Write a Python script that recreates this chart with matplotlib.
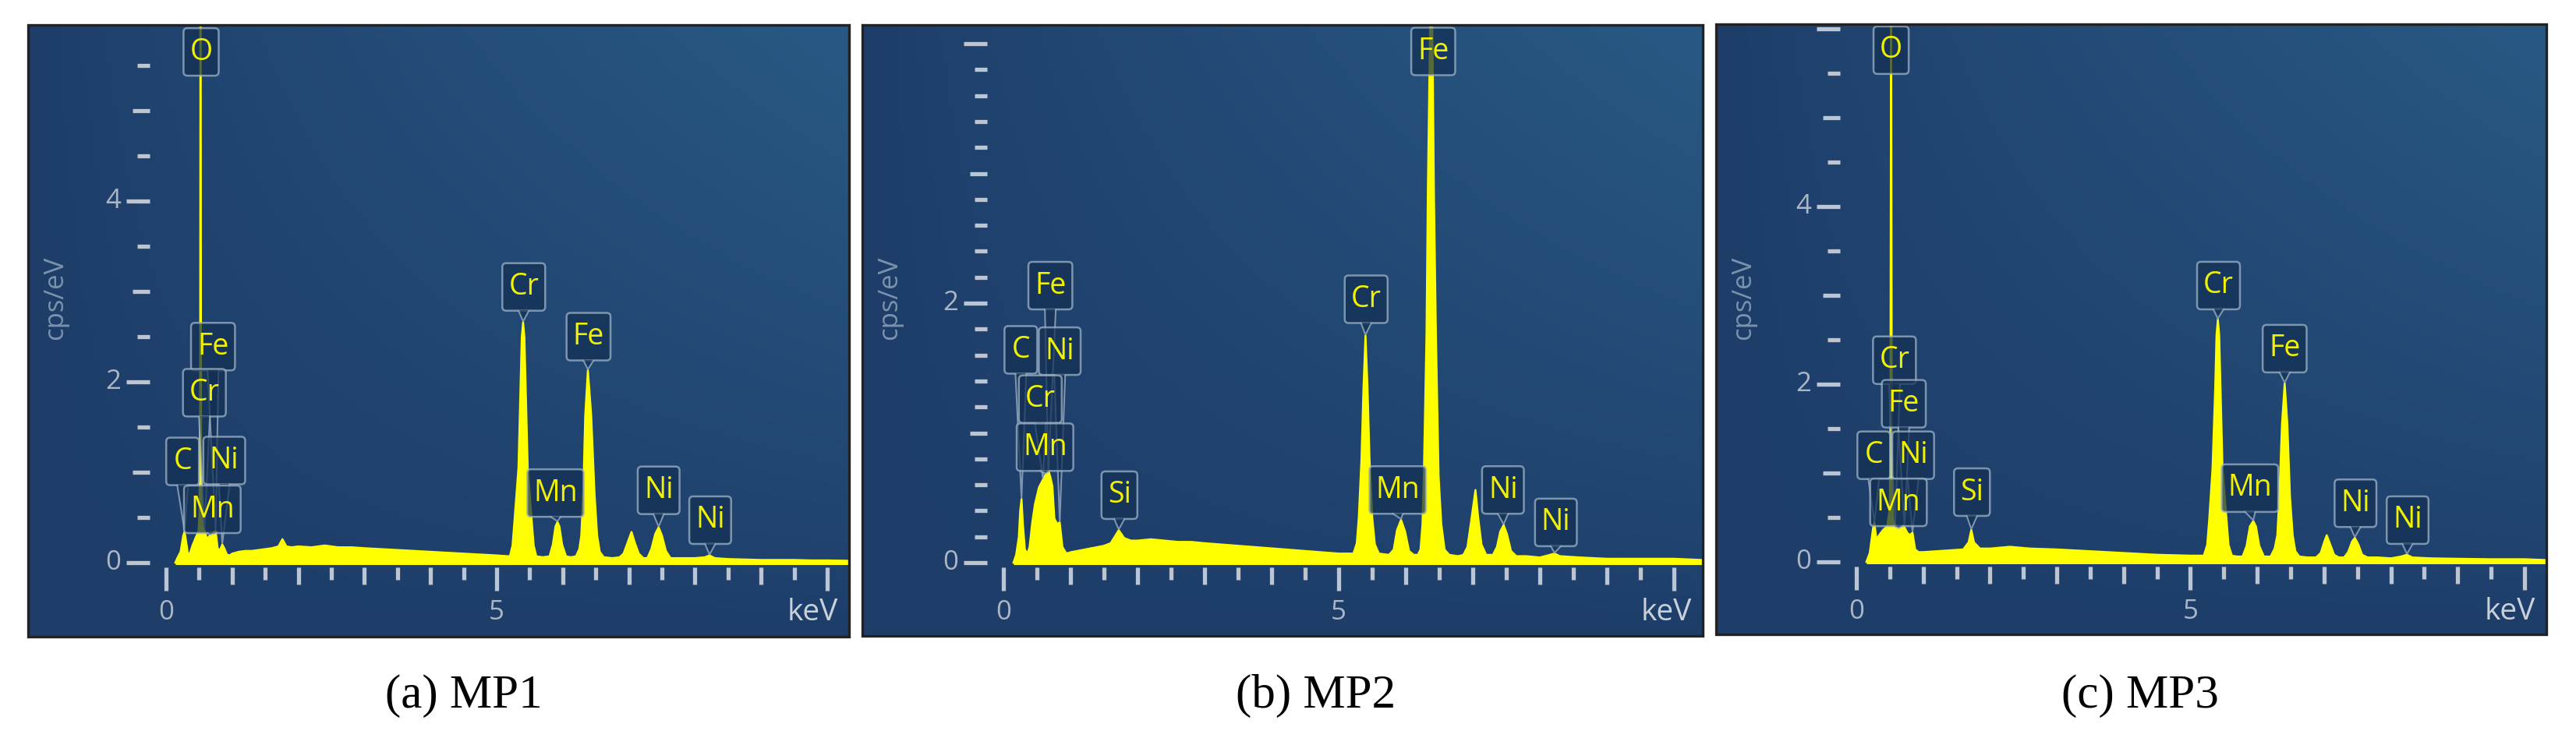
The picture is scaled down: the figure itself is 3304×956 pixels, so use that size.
import numpy as np
import matplotlib
matplotlib.use("Agg")
import matplotlib.pyplot as plt
from matplotlib.patches import FancyBboxPatch, Polygon, Rectangle
from matplotlib.transforms import IdentityTransform

W, H, DPI = 3305, 956, 100

# ----------------------------------------------------------------- data
captions = ["(a) MP1", "(b) MP2", "(c) MP3"]

# (a) MP1 spectrum, keV vs cps/eV
a_energy = [0.14, 0.17, 0.22, 0.26, 0.28, 0.30, 0.33, 0.36, 0.40, 0.45, 0.49, 0.505, 0.515,
            0.52, 0.53, 0.535, 0.55, 0.58, 0.62, 0.66, 0.70, 0.75, 0.78, 0.81, 0.85, 0.88,
            0.92, 0.96, 1.00, 1.10, 1.20, 1.30, 1.40, 1.50, 1.60, 1.70, 1.76, 1.82, 1.90,
            2.00, 2.20, 2.40, 2.60, 2.80, 3.00, 3.25, 3.50, 3.75, 4.00, 4.25, 4.50, 4.75,
            5.00, 5.20, 5.24, 5.27, 5.33, 5.36, 5.38, 5.40, 5.42, 5.44, 5.47, 5.53, 5.56,
            5.60, 5.70, 5.80, 5.85, 5.89, 5.92, 5.95, 5.99, 6.05, 6.12, 6.20, 6.25, 6.28,
            6.31, 6.34, 6.38, 6.43, 6.48, 6.52, 6.56, 6.62, 6.75, 6.86, 6.92, 6.98, 7.04,
            7.09, 7.15, 7.22, 7.28, 7.34, 7.40, 7.45, 7.50, 7.56, 7.63, 7.80, 8.00, 8.15,
            8.22, 8.30, 8.50, 8.75, 9.00, 9.25, 9.50, 9.75, 10.00, 10.40]
a_counts = [0.00, 0.05, 0.12, 0.30, 0.34, 0.25, 0.10, 0.10, 0.19, 0.28, 0.34, 0.55, 1.60,
            5.95, 1.50, 1.00, 0.42, 0.36, 0.26, 0.30, 0.33, 0.35, 0.16, 0.13, 0.20, 0.16,
            0.09, 0.08, 0.10, 0.12, 0.13, 0.13, 0.14, 0.15, 0.16, 0.18, 0.26, 0.18, 0.17,
            0.18, 0.17, 0.19, 0.17, 0.17, 0.16, 0.15, 0.14, 0.13, 0.12, 0.11, 0.10, 0.09,
            0.08, 0.07, 0.19, 0.47, 1.05, 1.91, 2.49, 2.66, 2.49, 1.91, 1.05, 0.47, 0.19,
            0.07, 0.06, 0.07, 0.20, 0.40, 0.45, 0.40, 0.20, 0.07, 0.06, 0.07, 0.15, 0.30,
            0.77, 1.63, 2.13, 1.63, 0.77, 0.30, 0.12, 0.06, 0.05, 0.06, 0.10, 0.22, 0.34,
            0.22, 0.10, 0.05, 0.05, 0.15, 0.32, 0.39, 0.30, 0.13, 0.05, 0.05, 0.05, 0.06,
            0.08, 0.05, 0.04, 0.035, 0.03, 0.03, 0.03, 0.025, 0.025, 0.02]
a_label_names = ["O", "Fe", "Cr", "C", "Ni", "Mn", "Cr", "Fe", "Mn", "Ni", "Ni"]
a_label_x = [0.53, 0.71, 0.58, 0.25, 0.88, 0.70, 5.41, 6.39, 5.89, 7.45, 8.23]
a_label_y = [5.65, 2.39, 1.88, 1.12, 1.13, 0.59, 3.05, 2.50, 0.77, 0.80, 0.47]
a_line_keV = [0.52, 0.75, 0.58, 0.28, 0.85, 0.66, 5.40, 6.38, 5.92, 7.45, 8.22]

# (b) MP2 spectrum
b_energy = [0.15, 0.19, 0.23, 0.25, 0.27, 0.29, 0.32, 0.36, 0.39, 0.43, 0.47, 0.53, 0.59,
            0.63, 0.67, 0.70, 0.73, 0.76, 0.80, 0.84, 0.88, 0.94, 1.00, 1.10, 1.20, 1.30,
            1.40, 1.50, 1.60, 1.66, 1.72, 1.80, 1.90, 2.00, 2.20, 2.40, 2.60, 2.80, 3.00,
            3.25, 3.50, 3.75, 4.00, 4.25, 4.50, 4.75, 5.00, 5.22, 5.27, 5.30, 5.34, 5.37,
            5.40, 5.43, 5.46, 5.50, 5.54, 5.60, 5.75, 5.82, 5.87, 5.93, 5.99, 6.05, 6.12,
            6.18, 6.22, 6.25, 6.27, 6.31, 6.33, 6.36, 6.38, 6.40, 6.42, 6.45, 6.49, 6.53,
            6.58, 6.65, 6.78, 6.86, 6.92, 6.97, 7.04, 7.08, 7.13, 7.20, 7.30, 7.36, 7.41,
            7.46, 7.51, 7.57, 7.65, 7.80, 8.00, 8.15, 8.22, 8.30, 8.60, 9.00, 9.50, 10.00,
            10.45]
b_counts = [0.00, 0.06, 0.20, 0.40, 0.49, 0.30, 0.10, 0.07, 0.12, 0.31, 0.45, 0.58, 0.64,
            0.68, 0.71, 0.66, 0.59, 0.34, 0.30, 0.31, 0.12, 0.07, 0.08, 0.09, 0.10, 0.11,
            0.12, 0.13, 0.15, 0.20, 0.25, 0.19, 0.17, 0.17, 0.18, 0.17, 0.16, 0.16, 0.15,
            0.14, 0.13, 0.12, 0.11, 0.10, 0.09, 0.08, 0.07, 0.07, 0.15, 0.35, 0.80, 1.35,
            1.75, 1.35, 0.80, 0.35, 0.14, 0.07, 0.06, 0.10, 0.25, 0.33, 0.24, 0.09, 0.06,
            0.06, 0.10, 0.30, 0.67, 1.77, 2.87, 4.00, 4.60, 4.00, 2.87, 1.77, 0.67, 0.30,
            0.10, 0.06, 0.05, 0.06, 0.12, 0.30, 0.56, 0.35, 0.14, 0.06, 0.06, 0.12, 0.24,
            0.29, 0.22, 0.09, 0.05, 0.05, 0.04, 0.06, 0.07, 0.05, 0.04, 0.03, 0.03, 0.03,
            0.02]
b_label_names = ["Fe", "Fe", "C", "Ni", "Cr", "Mn", "Si", "Cr", "Mn", "Ni", "Ni"]
b_label_x = [6.41, 0.70, 0.26, 0.84, 0.55, 0.62, 1.73, 5.41, 5.88, 7.45, 8.24]
b_label_y = [3.94, 2.135, 1.64, 1.63, 1.26, 0.89, 0.52, 2.03, 0.56, 0.56, 0.31]
b_line_keV = [6.38, 0.67, 0.27, 0.84, 0.59, 0.63, 1.72, 5.40, 5.93, 7.46, 8.22]

# (c) MP3 spectrum
c_energy = [0.15, 0.20, 0.25, 0.27, 0.30, 0.34, 0.40, 0.46, 0.50, 0.51, 0.52, 0.53, 0.545,
            0.58, 0.63, 0.68, 0.72, 0.76, 0.80, 0.84, 0.88, 0.93, 1.00, 1.20, 1.40, 1.60,
            1.68, 1.72, 1.76, 1.85, 2.00, 2.30, 2.60, 3.00, 3.50, 4.00, 4.50, 5.00, 5.20,
            5.25, 5.28, 5.33, 5.37, 5.39, 5.41, 5.43, 5.45, 5.48, 5.54, 5.57, 5.62, 5.70,
            5.78, 5.84, 5.89, 5.94, 5.98, 6.03, 6.10, 6.20, 6.26, 6.30, 6.33, 6.37, 6.41,
            6.45, 6.49, 6.53, 6.57, 6.63, 6.75, 6.88, 6.95, 7.00, 7.04, 7.09, 7.15, 7.22,
            7.30, 7.36, 7.42, 7.46, 7.51, 7.57, 7.65, 7.80, 8.00, 8.15, 8.24, 8.32, 8.60,
            9.00, 9.50, 10.00, 10.35]
c_counts = [0.00, 0.10, 0.38, 0.44, 0.25, 0.30, 0.36, 0.40, 0.60, 1.60, 6.50, 1.60, 0.50,
            0.42, 0.37, 0.40, 0.39, 0.33, 0.30, 0.33, 0.14, 0.11, 0.11, 0.12, 0.13, 0.14,
            0.22, 0.36, 0.22, 0.15, 0.15, 0.17, 0.15, 0.14, 0.12, 0.10, 0.08, 0.07, 0.07,
            0.19, 0.47, 1.05, 1.95, 2.55, 2.73, 2.55, 1.95, 1.05, 0.47, 0.19, 0.07, 0.06,
            0.06, 0.18, 0.40, 0.46, 0.40, 0.18, 0.06, 0.06, 0.15, 0.30, 0.73, 1.55, 2.01,
            1.55, 0.73, 0.30, 0.12, 0.06, 0.05, 0.05, 0.10, 0.22, 0.30, 0.20, 0.08, 0.05,
            0.05, 0.11, 0.23, 0.27, 0.20, 0.08, 0.05, 0.05, 0.04, 0.06, 0.08, 0.05, 0.04,
            0.035, 0.03, 0.03, 0.02]
c_label_names = ["O", "Cr", "Fe", "C", "Ni", "Mn", "Si", "Cr", "Fe", "Mn", "Ni", "Ni"]
c_label_x = [0.52, 0.57, 0.71, 0.26, 0.85, 0.63, 1.73, 5.42, 6.41, 5.89, 7.47, 8.25]
c_label_y = [5.76, 2.27, 1.78, 1.20, 1.20, 0.67, 0.785, 3.11, 2.40, 0.83, 0.66, 0.47]
c_line_keV = [0.52, 0.58, 0.72, 0.27, 0.84, 0.63, 1.72, 5.41, 6.41, 5.94, 7.46, 8.24]

# y ticks (cps/eV)
a_yticks_step, a_yticks_max, a_ylabels = 0.5, 5.5, [0, 2, 4]
b_yticks_step, b_yticks_max, b_ylabels = 0.2, 4.0, [0, 2]
c_yticks_step, c_yticks_max, c_ylabels = 0.5, 6.0, [0, 2, 4]
x_labels = [0, 5]

# ----------------------------------------------------------------- layout (pixels)
panels = [
    dict(frame=(36, 1089, 32, 817), x0=213, xs=84.8, y0=722, ys=116.0,
         E=a_energy, C=a_counts, names=a_label_names, lx=a_label_x, ly=a_label_y,
         lk=a_line_keV, ystep=a_yticks_step, ymax=a_yticks_max, ylab=a_ylabels, capx=595),
    dict(frame=(1106, 2184, 32, 816), x0=1287, xs=86.0, y0=722, ys=166.5,
         E=b_energy, C=b_counts, names=b_label_names, lx=b_label_x, ly=b_label_y,
         lk=b_line_keV, ystep=b_yticks_step, ymax=b_yticks_max, ylab=b_ylabels, capx=1688),
    dict(frame=(2201, 3266, 31, 814), x0=2381, xs=85.7, y0=721, ys=114.0,
         E=c_energy, C=c_counts, names=c_label_names, lx=c_label_x, ly=c_label_y,
         lk=c_line_keV, ystep=c_yticks_step, ymax=c_yticks_max, ylab=c_ylabels, capx=2745),
]

DARK = np.array([0x1e, 0x3d, 0x69]) / 255
LIGHT = np.array([0x28, 0x59, 0x84]) / 255
YEL = "#ffff00"
TXT_YEL = "#f2f200"
TICK = "#bcc6d2"
LAB = "#aab6c5"

fig = plt.figure(figsize=(W / DPI, H / DPI), dpi=DPI)
fig.patch.set_facecolor("white")
renderer = fig.canvas.get_renderer()

for i, p in enumerate(panels):
    L, R, T, B = p["frame"]
    ax = fig.add_axes([L / W, 1 - B / H, (R - L) / W, (B - T) / H])
    xs, ys = p["xs"], p["ys"]
    xlim = ((L - p["x0"]) / xs, (R - p["x0"]) / xs)
    ylim = ((p["y0"] - B) / ys, (p["y0"] - T) / ys)
    ax.set_xlim(*xlim)
    ax.set_ylim(*ylim)
    ax.set_axis_off()

    # gradient background (lighter towards the upper right)
    gx = np.linspace(0, 1, 200)
    gy = np.linspace(0, 1, 120)
    GX, GY = np.meshgrid(gx, gy)
    t = np.clip((GX * GY) ** 0.8, 0, 1)[..., None]
    img = DARK * (1 - t) + LIGHT * t
    ax.imshow(img, extent=(xlim[0], xlim[1], ylim[0], ylim[1]), origin="lower",
              aspect="auto", zorder=0, interpolation="bicubic")

    # frame
    ax.add_patch(Rectangle((0, 0), 1, 1, transform=ax.transAxes, fill=False,
                           ec="#222222", lw=2.4, zorder=10, clip_on=False))

    # spectrum
    E = np.array(p["E"]); C = np.array(p["C"])
    ax.fill_between(E, -2.5 / ys, C, color=YEL, lw=0, zorder=2)
    ax.plot(E, C, color=YEL, lw=1.8, zorder=2)

    # y ticks
    xr = -21 / xs
    n = int(round(p["ymax"] / p["ystep"]))
    for k in range(n + 1):
        v = k * p["ystep"]
        if abs(v / 2 - round(v / 2)) < 1e-6:
            ln = 30
        elif abs(v - round(v)) < 1e-6:
            ln = 22
        else:
            ln = 16
        ax.plot([xr - ln / xs, xr], [v, v], color=TICK, lw=3.8, solid_capstyle="butt", zorder=3)
    for v in p["ylab"]:
        ax.text(xr - 37 / xs, v, str(v), ha="right", va="center", fontsize=25,
                color=LAB, family="Open Sans", zorder=3)

    # x ticks
    yt = -6 / ys
    for k in range(0, 21):
        v = k * 0.5
        if k % 10 == 0:
            ln = 30
        elif k % 2 == 0:
            ln = 22
        else:
            ln = 16
        ax.plot([v, v], [yt, yt - ln / ys], color=TICK, lw=3.8, solid_capstyle="butt", zorder=3)
    for v in x_labels:
        ax.text(v, -64 / ys, str(v), ha="center", va="center", fontsize=25,
                color=LAB, family="Open Sans", zorder=3)
    ax.text(xlim[1] - 14 / xs, -64 / ys, "keV", ha="right", va="center", fontsize=28,
            color="#c8d0da", family="Open Sans", zorder=3)
    ax.text(xlim[0] + 35 / xs, (p["y0"] - 382) / ys, "cps/eV", rotation=90, ha="center",
            va="center", fontsize=25, color="#7b92ad", family="Open Sans", zorder=3)

    # peak labels
    for name, cx, cy, ek in zip(p["names"], p["lx"], p["ly"], p["lk"]):
        X, Y = ax.transData.transform((cx, cy))
        txt = ax.text(cx, cy, name, ha="center", va="center", fontsize=27, color=TXT_YEL,
                      family="Open Sans", zorder=7)
        bb = txt.get_window_extent(renderer)
        w = max(bb.width + 16, 42)
        h = 61
        fc = (0.08, 0.19, 0.33, 0.72)
        ec = (0.62, 0.70, 0.78, 0.75)
        box = FancyBboxPatch((X - w / 2, Y - h / 2), w, h,
                             boxstyle="round,pad=0,rounding_size=5",
                             transform=IdentityTransform(), fc=fc, ec=ec, lw=1.8, zorder=6)
        ax.add_patch(box)
        ey = float(np.interp(ek, E, C))
        TX, TY = ax.transData.transform((ek, min(ey, ylim[1])))
        bottom = Y - h / 2
        if TY < bottom - 3:
            poly = Polygon([(X - 7, bottom + 0.8), (TX, TY + 1), (X + 7, bottom + 0.8)],
                           closed=False, transform=IdentityTransform(), fc=fc, ec=ec,
                           lw=1.5, zorder=6)
            ax.add_patch(poly)

    fig.text(p["capx"] / W, 1 - 893 / H, captions[i], ha="center", va="center",
             fontsize=44, family="Liberation Serif", color="black")

fig.savefig("out.png", dpi=DPI, facecolor="white")
